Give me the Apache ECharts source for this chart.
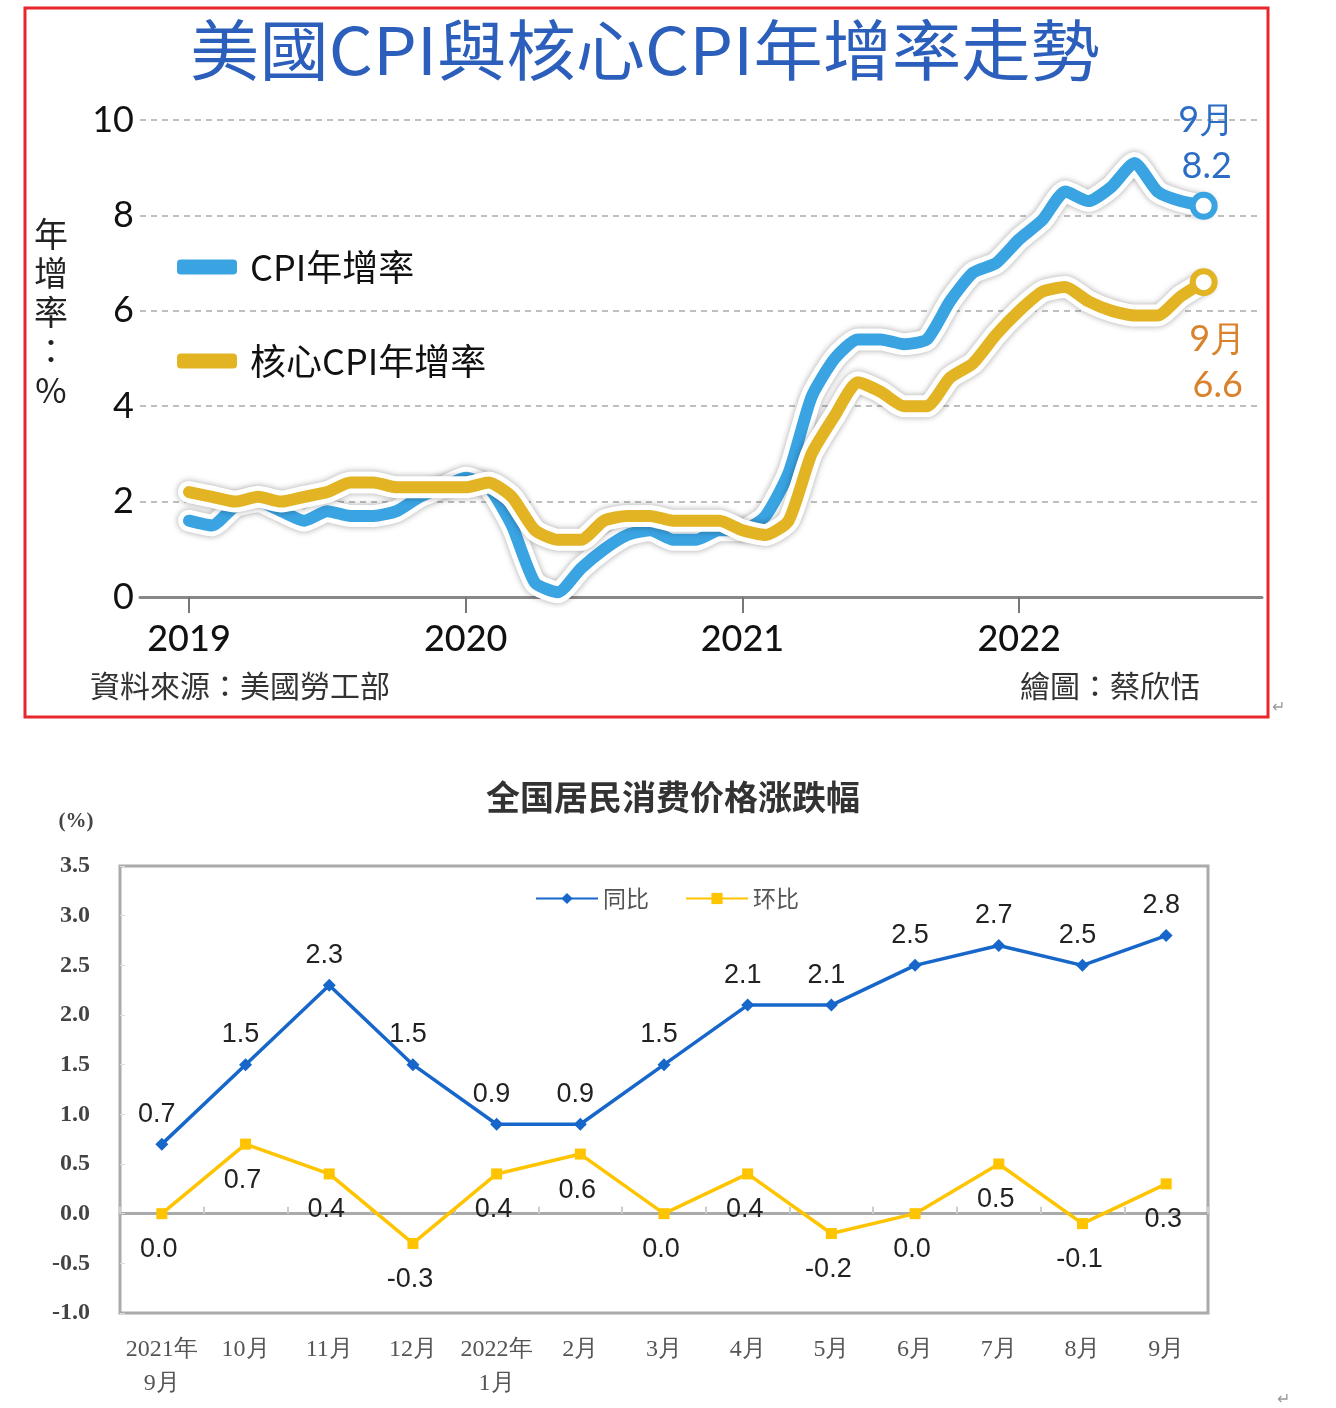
<!DOCTYPE html>
<html>
<head>
  <meta charset="utf-8">
  <title>CPI</title>
  <script src="https://cdn.jsdelivr.net/npm/echarts@6/dist/echarts.min.js"></script>
</head>
<body style="margin:0;background:#fff;">
  <div id="main" style="width:1336px;height:1408px;"></div>
  <script type="text/javascript">
    // 上圖：美國 CPI 與核心 CPI 年增率 (2019/01 - 2022/09，月資料)
    var cpiYoY = [1.6, 1.5, 1.9, 2.0, 1.8, 1.6, 1.8, 1.7, 1.7, 1.8, 2.1, 2.3,
                  2.5, 2.3, 1.5, 0.3, 0.1, 0.6, 1.0, 1.3, 1.4, 1.2, 1.2, 1.4,
                  1.4, 1.7, 2.6, 4.2, 5.0, 5.4, 5.4, 5.3, 5.4, 6.2, 6.8, 7.0,
                  7.5, 7.9, 8.5, 8.3, 8.6, 9.1, 8.5, 8.3, 8.2];
    var coreYoY = [2.2, 2.1, 2.0, 2.1, 2.0, 2.1, 2.2, 2.4, 2.4, 2.3, 2.3, 2.3,
                   2.3, 2.4, 2.1, 1.4, 1.2, 1.2, 1.6, 1.7, 1.7, 1.6, 1.6, 1.6,
                   1.4, 1.3, 1.6, 3.0, 3.8, 4.5, 4.3, 4.0, 4.0, 4.6, 4.9, 5.5,
                   6.0, 6.4, 6.5, 6.2, 6.0, 5.9, 5.9, 6.3, 6.6];
    var yearLabels = ['2019', '2020', '2021', '2022'];
    var lastMonth = '9月';

    // 下圖：全国居民消费价格涨跌幅
    var cnMonths = ['2021年\n9月', '10月', '11月', '12月', '2022年\n1月', '2月', '3月',
                    '4月', '5月', '6月', '7月', '8月', '9月'];
    var tongbi = [0.7, 1.5, 2.3, 1.5, 0.9, 0.9, 1.5, 2.1, 2.1, 2.5, 2.7, 2.5, 2.8];
    var huanbi = [0.0, 0.7, 0.4, -0.3, 0.4, 0.6, 0.0, 0.4, -0.2, 0.0, 0.5, -0.1, 0.3];

    var myChart = echarts.init(document.getElementById('main'));

    function toPairs(arr, color, textColor, pos, dist, off) {
      var last = arr.length - 1;
      return arr.map(function (v, i) {
        if (i !== last) return [i, v];
        return {
          value: [i, v],
          symbol: 'circle',
          symbolSize: 22,
          itemStyle: { color: '#fff', borderColor: color, borderWidth: 6 },
          label: {
            show: true, position: pos, distance: dist, offset: off,
            formatter: function (p) { return lastMonth + '\n' + p.value[1].toFixed(1); },
            fontSize: 36, lineHeight: 46, fontFamily: 'Lato', color: textColor
          }
        };
      });
    }

    function halo(arr) {
      return {
        type: 'line', xAxisIndex: 0, yAxisIndex: 0, silent: true,
        data: arr.map(function (v, i) { return [i, v]; }),
        symbol: 'none', smooth: 0.2,
        lineStyle: { width: 22, color: '#fff', cap: 'round', join: 'round',
                     shadowColor: 'rgba(0,0,0,0.35)', shadowBlur: 6 }
      };
    }

    var tickPos = yearLabels.map(function (y, i) { return i * 12; });

    var option = {
      backgroundColor: '#fff',
      animation: false,
      grid: [
        { left: 140, top: 120, width: 1122, height: 477 },
        { left: 120, top: 866, width: 1088, height: 447, show: true,
          borderColor: '#aaa', borderWidth: 3 }
      ],
      xAxis: [
        { type: 'value', gridIndex: 0, min: -2.125, max: 46.53,
          axisLine: { lineStyle: { color: '#888', width: 3 } },
          axisTick: { customValues: tickPos, length: 16, lineStyle: { color: '#777', width: 2 } },
          axisLabel: { customValues: tickPos, margin: 24, fontSize: 36, color: '#111',
                       fontFamily: 'Lato', fontWeight: 500,
                       formatter: function (v) { return yearLabels[Math.round(v / 12)]; } },
          splitLine: { show: false } },
        { type: 'category', gridIndex: 1, data: cnMonths, position: 'bottom',
          axisLine: { show: false, onZero: false }, axisTick: { show: false },
          axisLabel: { margin: 20, fontSize: 24, lineHeight: 34, color: '#555',
                       fontFamily: 'Liberation Serif', interval: 0 } },
        { type: 'category', gridIndex: 1, data: cnMonths, position: 'top',
          axisLine: { onZero: true, onZeroAxisIndex: 1, lineStyle: { color: '#aaa', width: 3 } },
          axisTick: { show: true, inside: false, length: 7, lineStyle: { color: '#ccc', width: 2 } },
          axisLabel: { show: false } }
      ],
      yAxis: [
        { type: 'value', gridIndex: 0, min: 0, max: 10, interval: 2,
          axisLine: { show: false }, axisTick: { show: false },
          axisLabel: { fontSize: 36, color: '#111', margin: 6, fontFamily: 'Lato' },
          splitLine: { lineStyle: { type: [6, 5], color: '#aaa', width: 1.5 } } },
        { type: 'value', gridIndex: 1, min: -1, max: 3.5, interval: 0.5,
          axisLine: { show: false },
          axisTick: { show: true, inside: true, length: 5, lineStyle: { color: '#ddd' } },
          axisLabel: { margin: 30, fontSize: 24, fontWeight: 'bold', color: '#444',
                       fontFamily: 'Liberation Serif',
                       formatter: function (v) { return v.toFixed(1); } },
          splitLine: { show: false } }
      ],
      legend: [
        { data: ['CPI年增率', '核心CPI年增率'], orient: 'vertical', left: 172, top: 244,
          icon: 'roundRect', itemWidth: 60, itemHeight: 15, itemGap: 58,
          textStyle: { fontSize: 36, color: '#111', fontFamily: 'Noto Sans CJK TC', padding: [0, 0, 0, 8] } },
        { data: ['同比', '环比'], left: 530, top: 882, itemWidth: 62, itemHeight: 14, itemGap: 36,
          textStyle: { fontSize: 23, color: '#555', fontFamily: 'Noto Sans CJK SC' } }
      ],
      graphic: [
        { type: 'rect', shape: { x: 25, y: 8, width: 1243, height: 709 },
          style: { fill: 'none', stroke: '#e8262b', lineWidth: 3 } },
        { type: 'text', x: 645, y: 50, scaleX: 1.05, originX: 0, originY: 0,
          style: { text: '美國CPI與核心CPI年增率走勢', fontSize: 66, fill: '#2b5fbb',
                   fontFamily: 'Noto Sans CJK TC', align: 'center', verticalAlign: 'middle' } },
        { type: 'text', x: 51, y: 215,
          style: { text: '年\n增\n率\n：\n%', fontSize: 34, lineHeight: 39, fill: '#222',
                   fontFamily: 'Noto Sans CJK TC', align: 'center' } },
        { type: 'text', x: 90, y: 686,
          style: { text: '資料來源：美國勞工部', fontSize: 30, fill: '#333',
                   fontFamily: 'Noto Sans CJK TC', verticalAlign: 'middle' } },
        { type: 'text', x: 1200, y: 686,
          style: { text: '繪圖：蔡欣恬', fontSize: 30, fill: '#333', align: 'right',
                   fontFamily: 'Noto Sans CJK TC', verticalAlign: 'middle' } },
        { type: 'text', x: 673, y: 797,
          style: { text: '全国居民消费价格涨跌幅', fontSize: 34, fontWeight: 'bold', fill: '#333',
                   fontFamily: 'Noto Sans CJK SC', align: 'center', verticalAlign: 'middle' } },
        { type: 'text', x: 76, y: 822,
          style: { text: '(%)', fontSize: 21, fontWeight: 'bold', fill: '#444',
                   fontFamily: 'Liberation Serif', align: 'center', verticalAlign: 'middle' } },
        { type: 'text', x: 1278, y: 708,
          style: { text: '↵', fontSize: 16, fill: '#999', align: 'center', verticalAlign: 'middle' } },
        { type: 'text', x: 1283, y: 1400,
          style: { text: '↵', fontSize: 16, fill: '#999', align: 'center', verticalAlign: 'middle' } }
      ],
      series: [
        halo(cpiYoY),
        { name: 'CPI年增率', type: 'line', xAxisIndex: 0, yAxisIndex: 0, smooth: 0.2,
          symbol: 'none', color: '#3aa3e2',
          data: toPairs(cpiYoY, '#3aa3e2', '#2b6cc4', 'top', 2, [3, 0]),
          lineStyle: { width: 12, color: '#3aa3e2', cap: 'round', join: 'round' } },
        halo(coreYoY),
        { name: '核心CPI年增率', type: 'line', xAxisIndex: 0, yAxisIndex: 0, smooth: 0.2,
          symbol: 'none', color: '#e2b323',
          data: toPairs(coreYoY, '#e2b323', '#d9822b', 'bottom', 20, [14, 0]),
          lineStyle: { width: 12, color: '#e2b323', cap: 'round', join: 'round' } },
        { name: '同比', type: 'line', xAxisIndex: 1, yAxisIndex: 1, data: tongbi,
          symbol: 'diamond', symbolSize: 13, color: '#1766c9',
          lineStyle: { width: 3.5, color: '#1766c9' },
          label: { show: true, position: 'top', distance: 10, offset: [-5, 0],
                   fontSize: 27, color: '#222', fontFamily: 'Liberation Sans',
                   formatter: function (p) { return p.value.toFixed(1); } } },
        { name: '环比', type: 'line', xAxisIndex: 1, yAxisIndex: 1, data: huanbi,
          symbol: 'rect', symbolSize: 11, color: '#ffc400',
          lineStyle: { width: 3.5, color: '#ffc400' },
          label: { show: true, position: 'bottom', distance: 17, offset: [-3, 0],
                   fontSize: 27, color: '#222', fontFamily: 'Liberation Sans',
                   formatter: function (p) { return p.value.toFixed(1); } } }
      ]
    };

    myChart.setOption(option);
  </script>
</body>
</html>
